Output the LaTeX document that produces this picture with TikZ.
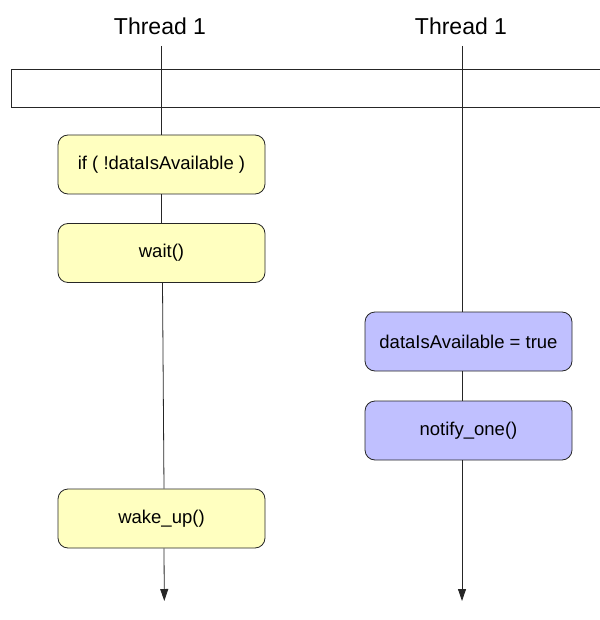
\documentclass[tikz,border=0pt]{standalone}
\usepackage{fontspec}
\setmainfont{Liberation Sans}
\usetikzlibrary{positioning,arrows.meta}

\begin{document}
\begin{tikzpicture}[x=1pt,y=-1pt]
\tikzstyle{every node}+=[inner sep=0pt]
\tikzstyle{stepbox}=[draw=black!85, line width=0.8pt, rounded corners=10pt, minimum width=207pt, minimum height=59pt, font=\fontsize{18.5}{21}\selectfont]
\tikzstyle{waitbox}=[stepbox, fill={rgb,255:red,255;green,255;blue,192}]
\tikzstyle{notebox}=[stepbox, fill={rgb,255:red,192;green,192;blue,255}]
\tikzstyle{lifeline}=[black!85, line width=0.8pt]
\useasboundingbox (0,0) rectangle (599,620);
% thread titles
\node (title1) at (160,26) {\fontsize{23}{26}\selectfont Thread 1};
\node (title2) at (461,26) {\fontsize{23}{26}\selectfont Thread 1};
\coordinate (t1top) at (161.5,46);
\coordinate (t2top) at (462,46);
\coordinate (t1end) at (164.3,601);
\coordinate (t2end) at (462,601);
% shared strip
\node [draw=black!85, line width=0.8pt, minimum width=600pt, minimum height=38pt] (strip) at (311,88) {};
% left thread
\node [waitbox] (check) at (161.5,164.5) {if ( !dataIsAvailable )};
\node [waitbox] (wait) at (161.5,253) {wait()};
\node [waitbox] (wake) at (161.5,518.5) {wake\_up()};
% right thread
\node [notebox] (setflag) at (468.5,341.5) {dataIsAvailable = true};
\node [notebox] (notify) at (468.5,430.5) {notify\_one()};
\draw [lifeline] (t1top) -- (check.north);
\draw [lifeline] (check.south) -- (wait.north);
\draw [lifeline] ([xshift=1pt]wait.south) -- ([xshift=2.5pt]wake.north);
\draw [lifeline, -{Triangle[width=8pt,length=12pt]}] ([xshift=2.5pt]wake.south) -- (t1end);
\draw [lifeline] (t2top) -- (t2top |- setflag.north);
\draw [lifeline] (t2top |- setflag.south) -- (t2top |- notify.north);
\draw [lifeline, -{Triangle[width=8pt,length=12pt]}] (t2top |- notify.south) -- (t2end);
\end{tikzpicture}
\end{document}
